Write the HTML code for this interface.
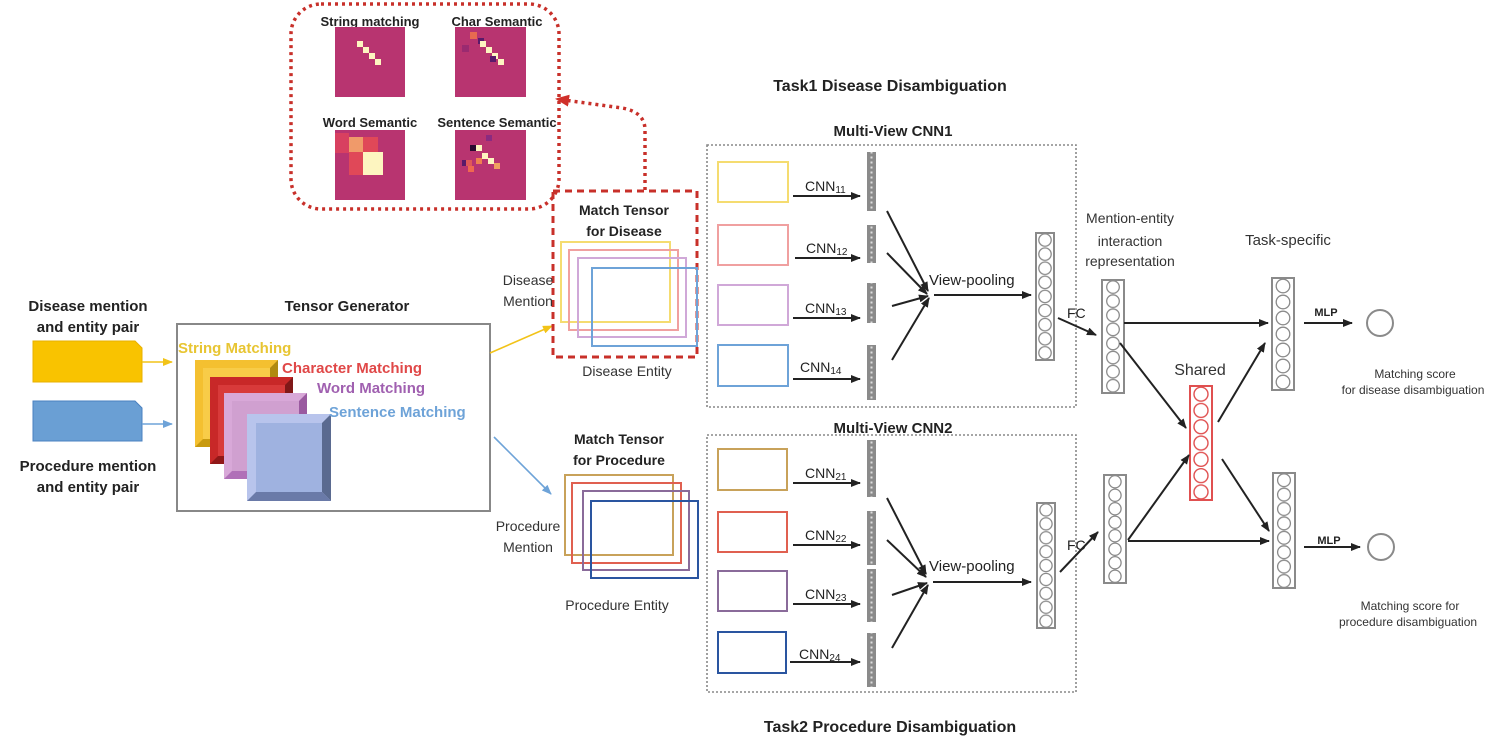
<!DOCTYPE html>
<html><head><meta charset="utf-8"><style>
html,body{margin:0;padding:0;background:#fff;}
svg{display:block;font-family:"Liberation Sans",sans-serif;}
.b{font-weight:bold;}
</style></head><body>
<svg width="1505" height="742" viewBox="0 0 1505 742" xmlns="http://www.w3.org/2000/svg">
<defs>
<marker id="ah" markerWidth="10" markerHeight="8" refX="9" refY="4" orient="auto" markerUnits="userSpaceOnUse"><path d="M0,0 L10,4 L0,8 z" fill="#222"/></marker>
<marker id="ahy" markerWidth="10" markerHeight="8" refX="9" refY="4" orient="auto" markerUnits="userSpaceOnUse"><path d="M0,0 L10,4 L0,8 z" fill="#f2c318"/></marker>
<marker id="ahb" markerWidth="10" markerHeight="8" refX="9" refY="4" orient="auto" markerUnits="userSpaceOnUse"><path d="M0,0 L10,4 L0,8 z" fill="#6ea3d8"/></marker>
<marker id="ahr" markerWidth="14" markerHeight="12" refX="12" refY="6" orient="auto" markerUnits="userSpaceOnUse"><path d="M0,0 L14,6 L0,12 z" fill="#d0302a"/></marker>
<pattern id="p1" x="1036" y="233" width="18" height="14.1" patternUnits="userSpaceOnUse"><rect width="18" height="14.1" fill="#fff"/><circle cx="9" cy="7.05" r="6.2" fill="none" stroke="#8a8a8a" stroke-width="1.3"/></pattern>
<pattern id="p2" x="1037" y="503" width="18" height="13.9" patternUnits="userSpaceOnUse"><rect width="18" height="13.9" fill="#fff"/><circle cx="9" cy="6.95" r="6.1" fill="none" stroke="#8a8a8a" stroke-width="1.3"/></pattern>
<pattern id="p3" x="1102" y="280" width="22" height="14.1" patternUnits="userSpaceOnUse"><rect width="22" height="14.1" fill="#fff"/><circle cx="11" cy="7.05" r="6.3" fill="none" stroke="#8a8a8a" stroke-width="1.3"/></pattern>
<pattern id="p4" x="1104" y="475" width="22" height="13.5" patternUnits="userSpaceOnUse"><rect width="22" height="13.5" fill="#fff"/><circle cx="11" cy="6.75" r="6.1" fill="none" stroke="#8a8a8a" stroke-width="1.3"/></pattern>
<pattern id="p5" x="1190" y="386" width="22" height="16.3" patternUnits="userSpaceOnUse"><rect width="22" height="16.3" fill="#fff"/><circle cx="11" cy="8.15" r="7" fill="none" stroke="#e05050" stroke-width="1.4"/></pattern>
<pattern id="p6" x="1272" y="278" width="22" height="16" patternUnits="userSpaceOnUse"><rect width="22" height="16" fill="#fff"/><circle cx="11" cy="8" r="6.8" fill="none" stroke="#8a8a8a" stroke-width="1.3"/></pattern>
<pattern id="p7" x="1273" y="473" width="22" height="14.4" patternUnits="userSpaceOnUse"><rect width="22" height="14.4" fill="#fff"/><circle cx="11" cy="7.2" r="6.4" fill="none" stroke="#8a8a8a" stroke-width="1.3"/></pattern>
<pattern id="dots" x="867" y="0" width="9" height="5" patternUnits="userSpaceOnUse"><rect width="9" height="5" fill="#8a8a8a"/><rect x="3.5" y="1.5" width="2" height="2" fill="#ddd"/></pattern>
</defs>

<!-- heatmap box -->
<rect x="291" y="4" width="268" height="205" rx="30" fill="none" stroke="#c8302a" stroke-width="3.5" stroke-dasharray="3,4"/>
<text x="370" y="26" font-size="13" class="b" text-anchor="middle" fill="#222">String matching</text>
<text x="497" y="26" font-size="13" class="b" text-anchor="middle" fill="#222">Char Semantic</text>
<text x="370" y="127" font-size="13" class="b" text-anchor="middle" fill="#222">Word Semantic</text>
<text x="497" y="127" font-size="13" class="b" text-anchor="middle" fill="#222">Sentence Semantic</text>
<rect x="335" y="27" width="70" height="70" fill="#b83470"/>
<rect x="357" y="41" width="6" height="6" fill="#fdf5c0"/><rect x="363" y="47" width="6" height="6" fill="#fdf5c0"/><rect x="369" y="53" width="6" height="6" fill="#fdf5c0"/><rect x="375" y="59" width="6" height="6" fill="#fdf5c0"/>
<rect x="455" y="27" width="71" height="70" fill="#b83470"/>
<rect x="470" y="32" width="7" height="7" fill="#e86a50"/><rect x="478" y="38" width="6" height="6" fill="#5a1a6a"/><rect x="480" y="41" width="6" height="6" fill="#fdf5c0"/><rect x="486" y="47" width="6" height="6" fill="#fdf5c0"/><rect x="492" y="53" width="6" height="6" fill="#fdf5c0"/><rect x="498" y="59" width="6" height="6" fill="#fdf5c0"/><rect x="490" y="56" width="6" height="6" fill="#5a1a6a"/><rect x="462" y="45" width="7" height="7" fill="#9a2a70"/>
<rect x="335" y="130" width="70" height="70" fill="#b83470"/>
<rect x="335" y="133" width="14" height="20" fill="#d84060"/><rect x="349" y="137" width="14" height="15" fill="#f09a6a"/><rect x="363" y="137" width="15" height="15" fill="#e04858"/><rect x="349" y="152" width="14" height="23" fill="#e04858"/><rect x="363" y="152" width="20" height="23" fill="#fdf5c0"/>
<rect x="455" y="130" width="71" height="70" fill="#b83470"/>
<rect x="470" y="145" width="6" height="6" fill="#2a0a30"/><rect x="476" y="145" width="6" height="6" fill="#fdf5c0"/><rect x="482" y="153" width="6" height="6" fill="#fdf5c0"/><rect x="488" y="158" width="6" height="6" fill="#fdf5c0"/><rect x="476" y="158" width="6" height="6" fill="#f08050"/><rect x="466" y="160" width="6" height="6" fill="#e05858"/><rect x="494" y="163" width="6" height="6" fill="#f0a060"/><rect x="462" y="160" width="4" height="6" fill="#5a1a6a"/><rect x="468" y="166" width="6" height="6" fill="#f06850"/><rect x="486" y="135" width="6" height="6" fill="#8a2a80"/>

<!-- red dotted arrow -->
<path d="M645,190 L645,130 Q645,112 622,108 L557,99" fill="none" stroke="#c8302a" stroke-width="3.5" stroke-dasharray="3,4" marker-end="url(#ahr)"/>

<!-- titles -->
<text x="890" y="91" font-size="16" class="b" text-anchor="middle" fill="#222">Task1 Disease Disambiguation</text>
<text x="893" y="136" font-size="15" class="b" text-anchor="middle" fill="#222">Multi-View CNN1</text>
<text x="893" y="433" font-size="15" class="b" text-anchor="middle" fill="#222">Multi-View CNN2</text>
<text x="890" y="732" font-size="16" class="b" text-anchor="middle" fill="#222">Task2 Procedure Disambiguation</text>

<rect x="707" y="145" width="369" height="262" fill="none" stroke="#888" stroke-width="1.6" stroke-dasharray="2,2"/>
<rect x="707" y="435" width="369" height="257" fill="none" stroke="#888" stroke-width="1.6" stroke-dasharray="2,2"/>

<!-- left inputs -->
<text x="88" y="311" font-size="15" class="b" text-anchor="middle" fill="#222">Disease mention</text>
<text x="88" y="332" font-size="15" class="b" text-anchor="middle" fill="#222">and entity pair</text>
<path d="M33,341 L135,341 L142,348 L142,382 L33,382 Z" fill="#f9c300" stroke="#e8b000"/>
<line x1="142" y1="362" x2="172" y2="362" stroke="#f2c318" stroke-width="1.5" marker-end="url(#ahy)"/>
<path d="M33,401 L135,401 L142,408 L142,441 L33,441 Z" fill="#6a9fd4" stroke="#4a80c0"/>
<line x1="142" y1="424" x2="172" y2="424" stroke="#6ea3d8" stroke-width="1.5" marker-end="url(#ahb)"/>
<text x="88" y="471" font-size="15" class="b" text-anchor="middle" fill="#222">Procedure mention</text>
<text x="88" y="492" font-size="15" class="b" text-anchor="middle" fill="#222">and entity pair</text>

<text x="347" y="311" font-size="15" class="b" text-anchor="middle" fill="#222">Tensor Generator</text>
<rect x="177" y="324" width="313" height="187" fill="none" stroke="#888" stroke-width="2"/>
<g>
<rect x="195" y="360" width="83" height="87" fill="#f4c030"/><rect x="203" y="368" width="67" height="71" fill="#f8cc48"/>
<polygon points="270,368 278,360 278,447 270,439" fill="#b08a10"/><polygon points="195,447 203,439 270,439 278,447" fill="#c89a10"/>
<rect x="210" y="377" width="83" height="87" fill="#c82828"/><rect x="218" y="385" width="67" height="71" fill="#d83a3a"/>
<polygon points="285,385 293,377 293,464 285,456" fill="#801818"/><polygon points="210,464 218,456 285,456 293,464" fill="#901818"/>
<rect x="224" y="393" width="83" height="86" fill="#d8a8d8"/><rect x="232" y="401" width="67" height="70" fill="#d0a0d0"/>
<polygon points="299,401 307,393 307,479 299,471" fill="#9a5aa0"/><polygon points="224,479 232,471 299,471 307,479" fill="#b070b8"/>
<rect x="247" y="414" width="84" height="87" fill="#b8c4ec"/><rect x="256" y="423" width="66" height="69" fill="#9fb2e0"/>
<polygon points="322,423 331,414 331,501 322,492" fill="#5a6a90"/><polygon points="247,501 256,492 322,492 331,501" fill="#6a7aa8"/>
</g>
<text x="178" y="353" font-size="15" class="b" fill="#e8c532">String Matching</text>
<text x="282" y="373" font-size="15" class="b" fill="#e04848">Character Matching</text>
<text x="317" y="393" font-size="15" class="b" fill="#a060b0">Word Matching</text>
<text x="329" y="417" font-size="15" class="b" fill="#6ea3d8">Sentence Matching</text>

<line x1="490" y1="353" x2="552" y2="326" stroke="#f2c318" stroke-width="1.6" marker-end="url(#ahy)"/>
<line x1="494" y1="437" x2="551" y2="494" stroke="#6ea3d8" stroke-width="1.6" marker-end="url(#ahb)"/>

<!-- match tensor disease -->
<rect x="553" y="191" width="144" height="166" fill="none" stroke="#c8302a" stroke-width="3" stroke-dasharray="7,5"/>
<text x="624" y="215" font-size="14" class="b" text-anchor="middle" fill="#222">Match Tensor</text>
<text x="624" y="236" font-size="14" class="b" text-anchor="middle" fill="#222">for Disease</text>
<rect x="561" y="242" width="109" height="80" fill="none" stroke="#f5dc70" stroke-width="2"/>
<rect x="569" y="250" width="109" height="80" fill="none" stroke="#f0a0a0" stroke-width="2"/>
<rect x="578" y="258" width="108" height="79" fill="none" stroke="#d0a8d8" stroke-width="2"/>
<rect x="592" y="268" width="105" height="78" fill="none" stroke="#6ea3d8" stroke-width="2"/>
<text x="528" y="285" font-size="14" text-anchor="middle" fill="#333">Disease</text>
<text x="528" y="306" font-size="14" text-anchor="middle" fill="#333">Mention</text>
<text x="627" y="376" font-size="14" text-anchor="middle" fill="#333">Disease Entity</text>

<!-- match tensor procedure -->
<text x="619" y="444" font-size="14" class="b" text-anchor="middle" fill="#222">Match Tensor</text>
<text x="619" y="465" font-size="14" class="b" text-anchor="middle" fill="#222">for Procedure</text>
<rect x="565" y="475" width="108" height="80" fill="none" stroke="#c8a25a" stroke-width="2"/>
<rect x="572" y="483" width="109" height="80" fill="none" stroke="#e06050" stroke-width="2"/>
<rect x="583" y="491" width="106" height="79" fill="none" stroke="#8a6b9a" stroke-width="2"/>
<rect x="591" y="501" width="107" height="77" fill="none" stroke="#2a55a0" stroke-width="2"/>
<text x="528" y="531" font-size="14" text-anchor="middle" fill="#333">Procedure</text>
<text x="528" y="552" font-size="14" text-anchor="middle" fill="#333">Mention</text>
<text x="617" y="610" font-size="14" text-anchor="middle" fill="#333">Procedure Entity</text>

<!-- CNN1 -->
<rect x="718" y="162" width="70" height="40" fill="none" stroke="#f5dc70" stroke-width="2"/>
<rect x="718" y="225" width="70" height="40" fill="none" stroke="#f0a0a0" stroke-width="2"/>
<rect x="718" y="285" width="70" height="40" fill="none" stroke="#d0a8d8" stroke-width="2"/>
<rect x="718" y="345" width="70" height="41" fill="none" stroke="#6ea3d8" stroke-width="2"/>
<g font-size="14" fill="#222">
<text x="805" y="191">CNN<tspan font-size="10" dy="2">11</tspan></text>
<text x="806" y="253">CNN<tspan font-size="10" dy="2">12</tspan></text>
<text x="805" y="313">CNN<tspan font-size="10" dy="2">13</tspan></text>
<text x="800" y="372">CNN<tspan font-size="10" dy="2">14</tspan></text>
<text x="805" y="478">CNN<tspan font-size="10" dy="2">21</tspan></text>
<text x="805" y="540">CNN<tspan font-size="10" dy="2">22</tspan></text>
<text x="805" y="599">CNN<tspan font-size="10" dy="2">23</tspan></text>
<text x="799" y="659">CNN<tspan font-size="10" dy="2">24</tspan></text>
</g>
<g stroke="#222" stroke-width="2" marker-end="url(#ah)">
<line x1="793" y1="196" x2="860" y2="196"/><line x1="795" y1="258" x2="860" y2="258"/><line x1="793" y1="318" x2="860" y2="318"/><line x1="793" y1="379" x2="860" y2="379"/>
<line x1="887" y1="211" x2="928" y2="291"/><line x1="887" y1="253" x2="927" y2="294"/><line x1="892" y1="306" x2="928" y2="296"/><line x1="892" y1="360" x2="929" y2="298"/>
<line x1="934" y1="295" x2="1031" y2="295"/>
<line x1="793" y1="483" x2="860" y2="483"/><line x1="793" y1="545" x2="860" y2="545"/><line x1="793" y1="604" x2="860" y2="604"/><line x1="790" y1="662" x2="860" y2="662"/>
<line x1="887" y1="498" x2="926" y2="574"/><line x1="887" y1="540" x2="926" y2="577"/><line x1="892" y1="595" x2="927" y2="583"/><line x1="892" y1="648" x2="928" y2="585"/>
<line x1="933" y1="582" x2="1031" y2="582"/>
<line x1="1058" y1="318" x2="1096" y2="335"/>
<line x1="1060" y1="572" x2="1098" y2="532"/>
</g>
<rect x="867" y="152" width="9" height="59" fill="url(#dots)"/>
<rect x="867" y="225" width="9" height="38" fill="url(#dots)"/>
<rect x="867" y="283" width="9" height="40" fill="url(#dots)"/>
<rect x="867" y="345" width="9" height="55" fill="url(#dots)"/>
<rect x="867" y="440" width="9" height="57" fill="url(#dots)"/>
<rect x="867" y="511" width="9" height="54" fill="url(#dots)"/>
<rect x="867" y="569" width="9" height="53" fill="url(#dots)"/>
<rect x="867" y="633" width="9" height="54" fill="url(#dots)"/>
<text x="929" y="285" font-size="15" fill="#222">View-pooling</text>
<text x="929" y="571" font-size="15" fill="#222">View-pooling</text>

<!-- CNN2 boxes -->
<rect x="718" y="449" width="69" height="41" fill="none" stroke="#c8a25a" stroke-width="2"/>
<rect x="718" y="512" width="69" height="40" fill="none" stroke="#e06050" stroke-width="2"/>
<rect x="718" y="571" width="69" height="40" fill="none" stroke="#8a6b9a" stroke-width="2"/>
<rect x="718" y="632" width="68" height="41" fill="none" stroke="#2a55a0" stroke-width="2"/>

<!-- pooling columns -->
<rect x="1036" y="233" width="18" height="127" fill="url(#p1)" stroke="#8a8a8a" stroke-width="2"/>
<rect x="1037" y="503" width="18" height="125" fill="url(#p2)" stroke="#8a8a8a" stroke-width="2"/>
<text x="1067" y="318" font-size="14" fill="#222">FC</text>
<text x="1067" y="550" font-size="14" fill="#222">FC</text>

<!-- right part -->
<text x="1130" y="223" font-size="14" text-anchor="middle" fill="#333">Mention-entity</text>
<text x="1130" y="246" font-size="14" text-anchor="middle" fill="#333">interaction</text>
<text x="1130" y="266" font-size="14" text-anchor="middle" fill="#333">representation</text>
<text x="1288" y="245" font-size="15" text-anchor="middle" fill="#333">Task-specific</text>
<text x="1200" y="375" font-size="16" text-anchor="middle" fill="#333">Shared</text>

<rect x="1102" y="280" width="22" height="113" fill="url(#p3)" stroke="#8a8a8a" stroke-width="2"/>
<rect x="1104" y="475" width="22" height="108" fill="url(#p4)" stroke="#8a8a8a" stroke-width="2"/>
<rect x="1190" y="386" width="22" height="114" fill="url(#p5)" stroke="#e05050" stroke-width="2"/>
<rect x="1272" y="278" width="22" height="112" fill="url(#p6)" stroke="#8a8a8a" stroke-width="2"/>
<rect x="1273" y="473" width="22" height="115" fill="url(#p7)" stroke="#8a8a8a" stroke-width="2"/>

<g stroke="#222" stroke-width="2" marker-end="url(#ah)">
<line x1="1124" y1="323" x2="1268" y2="323"/>
<line x1="1120" y1="343" x2="1186" y2="428"/>
<line x1="1218" y1="422" x2="1265" y2="343"/>
<line x1="1128" y1="540" x2="1189" y2="455"/>
<line x1="1128" y1="541" x2="1269" y2="541"/>
<line x1="1222" y1="459" x2="1269" y2="531"/>
<line x1="1304" y1="323" x2="1352" y2="323"/>
<line x1="1304" y1="547" x2="1360" y2="547"/>
</g>
<text x="1326" y="316" font-size="11" class="b" text-anchor="middle" fill="#222">MLP</text>
<text x="1329" y="544" font-size="11" class="b" text-anchor="middle" fill="#222">MLP</text>
<circle cx="1380" cy="323" r="13" fill="none" stroke="#8a8a8a" stroke-width="2"/>
<circle cx="1381" cy="547" r="13" fill="none" stroke="#8a8a8a" stroke-width="2"/>
<text x="1415" y="378" font-size="12" text-anchor="middle" fill="#333">Matching score</text>
<text x="1413" y="394" font-size="12" text-anchor="middle" fill="#333">for disease disambiguation</text>
<text x="1410" y="610" font-size="12" text-anchor="middle" fill="#333">Matching score for</text>
<text x="1408" y="626" font-size="12" text-anchor="middle" fill="#333">procedure disambiguation</text>
</svg>
</body></html>
